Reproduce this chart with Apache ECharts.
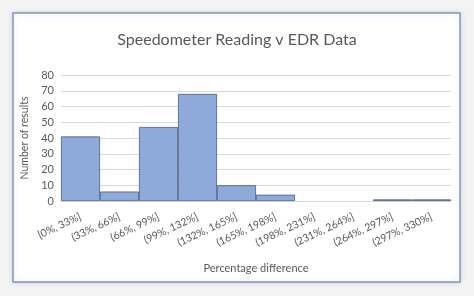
<!DOCTYPE html>
<html><head><meta charset="utf-8">
<script src="https://cdn.jsdelivr.net/npm/echarts@6/dist/echarts.min.js"></script>
<style>html,body{margin:0;padding:0;background:#f3f3f3;}#c{width:474px;height:296px;}</style>
</head><body><div id="c"></div>
<script>
const categories = ["[0%, 33%]","(33%, 66%]","(66%, 99%]","(99%, 132%]","(132%, 165%]","(165%, 198%]","(198%, 231%]","(231%, 264%]","(264%, 297%]","(297%, 330%]"];
const counts = [41, 6, 47, 68, 10, 4, 0, 0, 1, 1];
const yTicks = {min: 0, max: 80, interval: 10};
const title = "Speedometer Reading v EDR Data";
const xName = "Percentage difference";
const yName = "Number of results";

const chart = echarts.init(document.getElementById('c'), null, {renderer: 'canvas'});
const font = 'Lato, "Open Sans", sans-serif';
chart.setOption({
  animation: false,
  backgroundColor: 'transparent',
  graphic: [{
    type: 'rect', z: -10, silent: true,
    shape: {x: 13, y: 13, width: 447, height: 269},
    style: {fill: '#ffffff', stroke: '#7f95c4', lineWidth: 1.5,
      shadowBlur: 6, shadowColor: 'rgba(0,0,0,0.12)'}
  }],
  title: {
    text: title, left: 'center', top: 27,
    textStyle: {fontFamily: font, fontSize: 16, fontWeight: 'normal', color: '#595959'}
  },
  grid: {left: 61, right: 23, top: 75, bottom: 95},
  xAxis: {
    type: 'category', data: categories,
    name: xName, nameLocation: 'middle', nameGap: 62,
    nameTextStyle: {fontFamily: font, fontSize: 11, color: '#595959'},
    axisLine: {lineStyle: {color: '#d9d9d9'}},
    axisTick: {show: false},
    axisLabel: {rotate: 25, interval: 0, fontFamily: font, fontSize: 10.5, color: '#595959', margin: 15}
  },
  yAxis: {
    type: 'value', min: yTicks.min, max: yTicks.max, interval: yTicks.interval,
    name: yName, nameLocation: 'middle', nameGap: 27,
    nameTextStyle: {fontFamily: font, fontSize: 10.5, color: '#595959'},
    axisLine: {show: false}, axisTick: {show: false},
    axisLabel: {fontFamily: font, fontSize: 11, color: '#595959', margin: 7},
    splitLine: {lineStyle: {color: '#d9d9d9'}}
  },
  series: [{
    type: 'bar', data: counts.map(v => v === 0 ? null : v), barCategoryGap: 0,
    itemStyle: {color: '#8eaadb', borderColor: '#4b5a78', borderWidth: 0.8}
  }]
});
</script></body></html>
